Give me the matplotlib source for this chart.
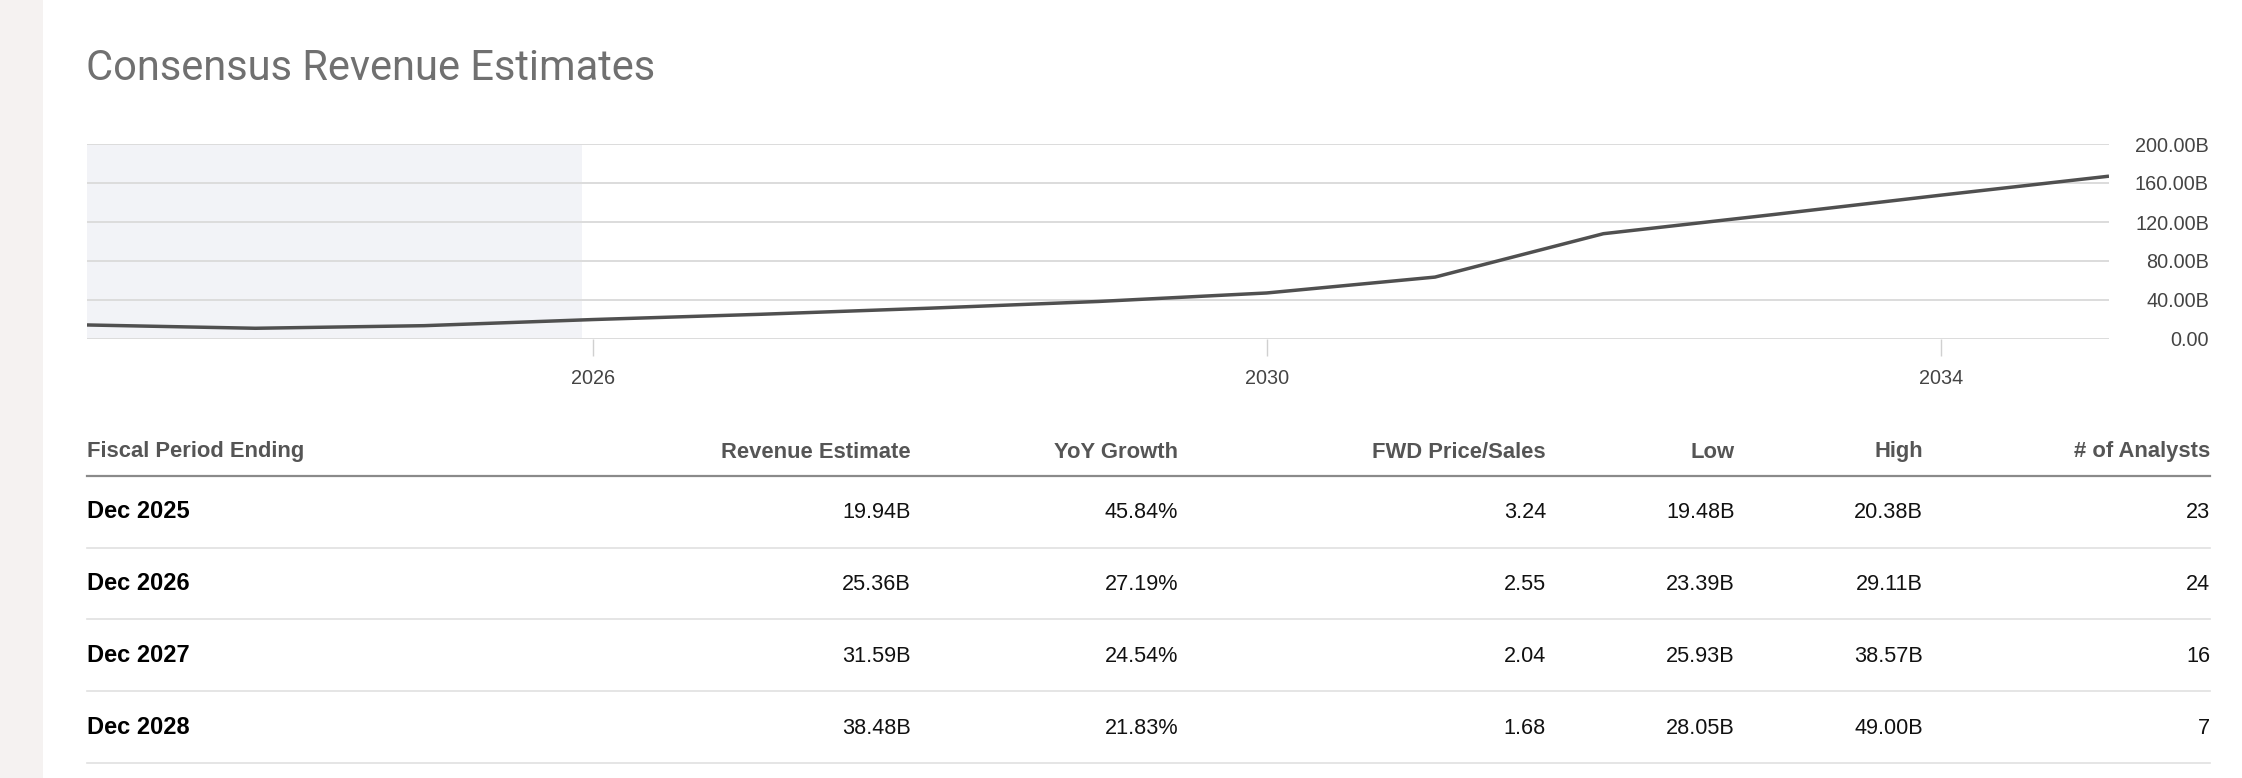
import datetime as dt
import matplotlib
matplotlib.use("Agg")
import matplotlib.pyplot as plt
import matplotlib.dates as mdates
from matplotlib.patches import Rectangle
from matplotlib.lines import Line2D

plt.rcParams['font.family'] = ['Liberation Sans', 'DejaVu Sans']

# chart data: revenue (B USD) at fiscal year end, Dec 2022 .. Dec 2034
years = list(range(2022, 2035))
revenue = [14.4, 11.0, 13.67, 19.94, 25.36, 31.59, 38.48, 47.2, 63.5, 108.0, 127.5, 147.5, 167.0]
y_ticks = [0, 40, 80, 120, 160, 200]
x_tick_years = [2026, 2030, 2034]
shade_end = dt.date(2025, 12, 9)

# table data
headers = ["Fiscal Period Ending", "Revenue Estimate", "YoY Growth", "FWD Price/Sales",
           "Low", "High", "# of Analysts"]
periods = ["Dec 2025", "Dec 2026", "Dec 2027", "Dec 2028"]
rev_est = ["19.94B", "25.36B", "31.59B", "38.48B"]
yoy = ["45.84%", "27.19%", "24.54%", "21.83%"]
fwd_ps = ["3.24", "2.55", "2.04", "1.68"]
low = ["19.48B", "23.39B", "25.93B", "28.05B"]
high = ["20.38B", "29.11B", "38.57B", "49.00B"]
analysts = ["23", "24", "16", "7"]

W, H = 2242, 778
fig = plt.figure(figsize=(W / 100, H / 100), dpi=100)
fig.patch.set_facecolor("white")


def fx(px):
    return px / W


def fy(py):
    return 1 - py / H


# left page strip
fig.patches.append(Rectangle((0, 0), fx(43), 1, transform=fig.transFigure,
                             facecolor="#f5f2f1", edgecolor="none", zorder=0))

fig.text(fx(86), fy(80), "Consensus Revenue Estimates", fontsize=30, color="#707070",
         family=["Roboto", "DejaVu Sans"], va="baseline", ha="left")

# chart
left, right, top, bottom = 87, 2109, 144, 339
ax = fig.add_axes([fx(left), fy(bottom), fx(right - left), (bottom - top) / H])
dates = [dt.date(y, 12, 31) for y in years]
ax.axvspan(dates[0], shade_end, color="#f2f3f7", zorder=0, lw=0)
ax.plot(dates, revenue, color="#505050", lw=2.5, zorder=3, solid_capstyle="butt")
ax.set_xlim(dates[0], dates[-1])
ax.set_ylim(0, 200)
for s in ax.spines.values():
    s.set_visible(False)
ax.set_yticks(y_ticks)
ax.set_yticklabels(["0.00" if v == 0 else f"{v:.2f}B" for v in y_ticks])
ax.yaxis.tick_right()
ax.tick_params(axis="y", length=0, pad=72, labelsize=14.3, labelcolor="#444444")
for lab in ax.get_yticklabels():
    lab.set_ha("right")
ax.grid(axis="y", color="#dcdcdc", lw=1.4, zorder=1)
ax.set_xticks([dt.date(y, 1, 1) for y in x_tick_years])
ax.xaxis.set_major_formatter(mdates.DateFormatter("%Y"))
ax.tick_params(axis="x", length=12.5, width=1, color="#d0d0d0", pad=9,
               labelsize=14.3, labelcolor="#444444")
ax.set_facecolor("none")

# table
tab_left, tab_right = 87, 2210
col_right = [None, 911, 1178, 1546, 1735, 1923, 2210]
header_y = 452
row_y = [512, 584, 656, 728]
sep_y = [548, 619, 691, 763]

for i, h in enumerate(headers):
    if i == 0:
        fig.text(fx(tab_left), fy(header_y), h, ha="left", va="center",
                 fontsize=15.8, fontweight="bold", color="#555555")
    else:
        fig.text(fx(col_right[i]), fy(header_y), h, ha="right", va="center",
                 fontsize=15.8, fontweight="bold", color="#555555")
fig.add_artist(Line2D([fx(tab_left), fx(tab_right)], [fy(476), fy(476)],
                      transform=fig.transFigure, color="#8a8a8a", lw=1.6))

columns = [rev_est, yoy, fwd_ps, low, high, analysts]
for r in range(len(periods)):
    fig.text(fx(tab_left), fy(row_y[r]), periods[r], ha="left", va="center",
             fontsize=17, fontweight="bold", color="#000000")
    for c, col in enumerate(columns):
        fig.text(fx(col_right[c + 1]), fy(row_y[r]), col[r], ha="right", va="center",
                 fontsize=15.6, color="#111111")
    fig.add_artist(Line2D([fx(tab_left), fx(tab_right)], [fy(sep_y[r]), fy(sep_y[r])],
                          transform=fig.transFigure, color="#e0e0e0", lw=1.2))

fig.savefig("out.png", dpi=100)
